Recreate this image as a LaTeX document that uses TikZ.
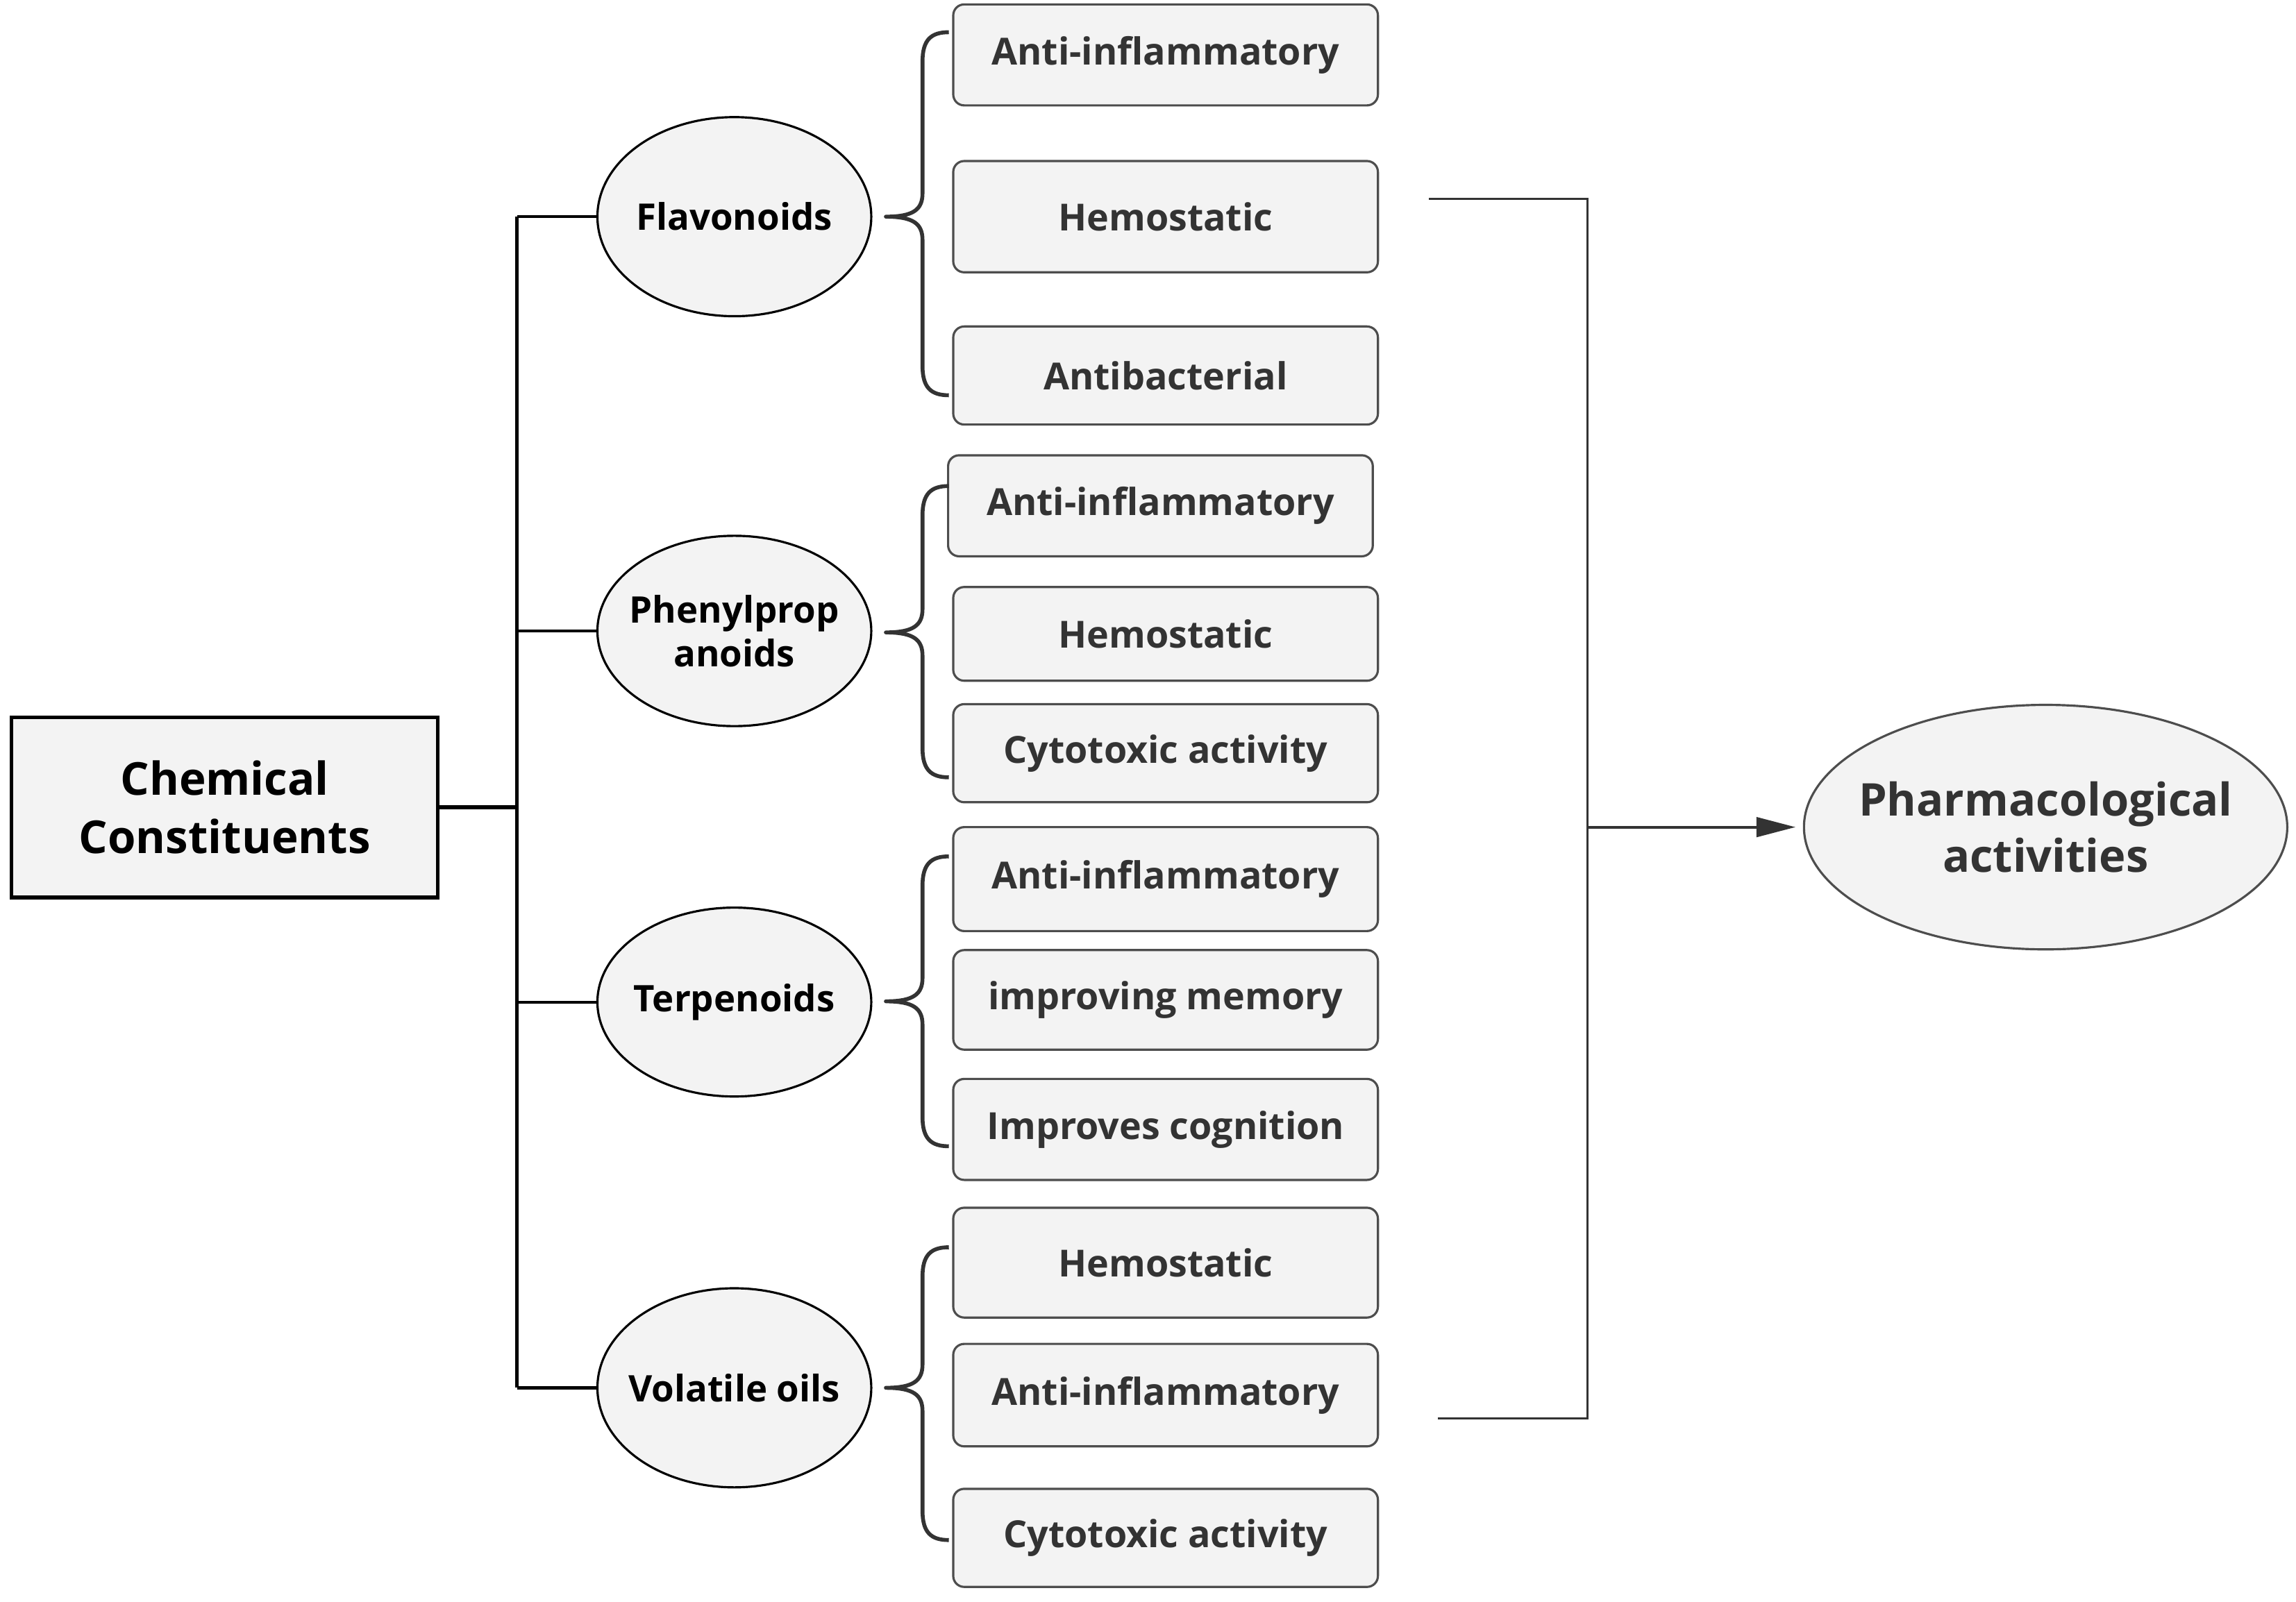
\documentclass[tikz,border=0pt]{standalone}
\usepackage{fontspec}
\setmainfont{Open Sans}
\usetikzlibrary{shapes.geometric,arrows.meta}
\definecolor{boxfill}{HTML}{F3F3F3}
\definecolor{boxline}{HTML}{4D4D4D}
\definecolor{txt}{HTML}{333333}
\newcommand{\mybrace}[3]{%
  \draw[bracestyle] (648,#1) .. controls (636,#1) and (630,#1+5) .. (630,#1+20)
    -- (630,#3-16) .. controls (630,#3-5) and (624,#3) .. (605,#3)
    .. controls (624,#3) and (630,#3+5) .. (630,#3+16)
    -- (630,#2-20) .. controls (630,#2-5) and (636,#2) .. (648,#2);}
\begin{document}
\begin{tikzpicture}[x=0.02109cm,y=-0.02109cm,
  actbox/.style={draw=boxline, line width=0.9pt, fill=boxfill, rounded corners=4.5pt,
    minimum width=6.116cm, inner sep=0pt, text=txt,
    font=\bfseries\fontsize{15.3}{18}\selectfont},
  classell/.style={ellipse, draw=black, line width=0.9pt, fill=boxfill,
    minimum width=3.944cm, inner xsep=-20pt, inner ysep=0pt, align=center,
    font=\bfseries\fontsize{15}{18}\selectfont},
  tree/.style={line width=1.2pt, draw=black},
  bracestyle/.style={line width=1.6pt, draw=txt, line join=round},
  rbr/.style={line width=0.9pt, draw=txt}]
\useasboundingbox[fill=white] (0,0) rectangle (1568,1094);

% root
\node[draw=black, line width=1.5pt, fill=boxfill, minimum width=6.137cm, minimum height=2.594cm,
  inner sep=0pt, align=center, font=\bfseries\fontsize{18.6}{24}\selectfont]
  (chem) at (153.5,551.5) {Chemical\\Constituents};

% classes
\node[classell, minimum height=2.868cm] (fla) at (501.5,148) {Flavonoids};
\node[classell, minimum height=2.742cm] (phe) at (501.5,431) {Phenylprop\\anoids};
\node[classell, minimum height=2.721cm] (ter) at (501.5,684.5) {Terpenoids};
\node[classell, minimum height=2.868cm] (vol) at (501.5,948) {Volatile oils};

% activities
\node[actbox, minimum height=1.455cm] (f1) at (796,37.5) {Anti-inflammatory};
\node[actbox, minimum height=1.603cm] (f2) at (796,148) {Hemostatic};
\node[actbox, minimum height=1.413cm] (f3) at (796,256.5) {Antibacterial};
\node[actbox, minimum height=1.455cm] (p1) at (792.5,345.5) {Anti-inflammatory};
\node[actbox, minimum height=1.350cm] (p2) at (796,433) {Hemostatic};
\node[actbox, minimum height=1.413cm] (p3) at (796,514.5) {Cytotoxic activity};
\node[actbox, minimum height=1.497cm] (t1) at (796,600.5) {Anti-inflammatory};
\node[actbox, minimum height=1.434cm] (t2) at (796,683) {improving memory};
\node[actbox, minimum height=1.455cm] (t3) at (796,771.5) {Improves cognition};
\node[actbox, minimum height=1.582cm] (v1) at (796,862.5) {Hemostatic};
\node[actbox, minimum height=1.476cm] (v2) at (796,953) {Anti-inflammatory};
\node[actbox, minimum height=1.413cm] (v3) at (796,1050.5) {Cytotoxic activity};

% result
\node[ellipse, draw=boxline, line width=0.9pt, fill=boxfill, minimum width=6.96cm,
  minimum height=3.522cm, inner xsep=-30pt, inner ysep=0pt, align=center, text=txt,
  font=\bfseries\fontsize{18.5}{23}\selectfont]
  (pha) at (1397,565) {Pharmacological\\activities};

% tree on the left
\coordinate (trunktop) at (353,148);
\coordinate (trunkbot) at (353,948);
\draw[tree] (trunktop) -- (trunkbot);
\draw[line width=1.8pt] (chem.east) -- (chem.east -| trunktop);
\draw[tree] (fla.west -| trunktop) -- (fla.west);
\draw[tree] (phe.west -| trunktop) -- (phe.west);
\draw[tree] (ter.west -| trunktop) -- (ter.west);
\draw[tree] (vol.west -| trunktop) -- (vol.west);

% braces
\mybrace{22}{270}{148}
\mybrace{332}{531}{432}
\mybrace{585}{783}{684}
\mybrace{852}{1052}{948}

% right bracket and arrow
\coordinate (rtop) at (976,136);
\coordinate (rbot) at (982,969);
\coordinate (rjoin) at (1084,565);
\draw[rbr] (rtop) -- (1084,136) -- (1084,969) -- (rbot);
\draw[line width=1.2pt, draw=txt, -{Triangle[length=16pt,width=8pt]}, shorten >=3pt] (rjoin) -- (pha.west);
\end{tikzpicture}
\end{document}
